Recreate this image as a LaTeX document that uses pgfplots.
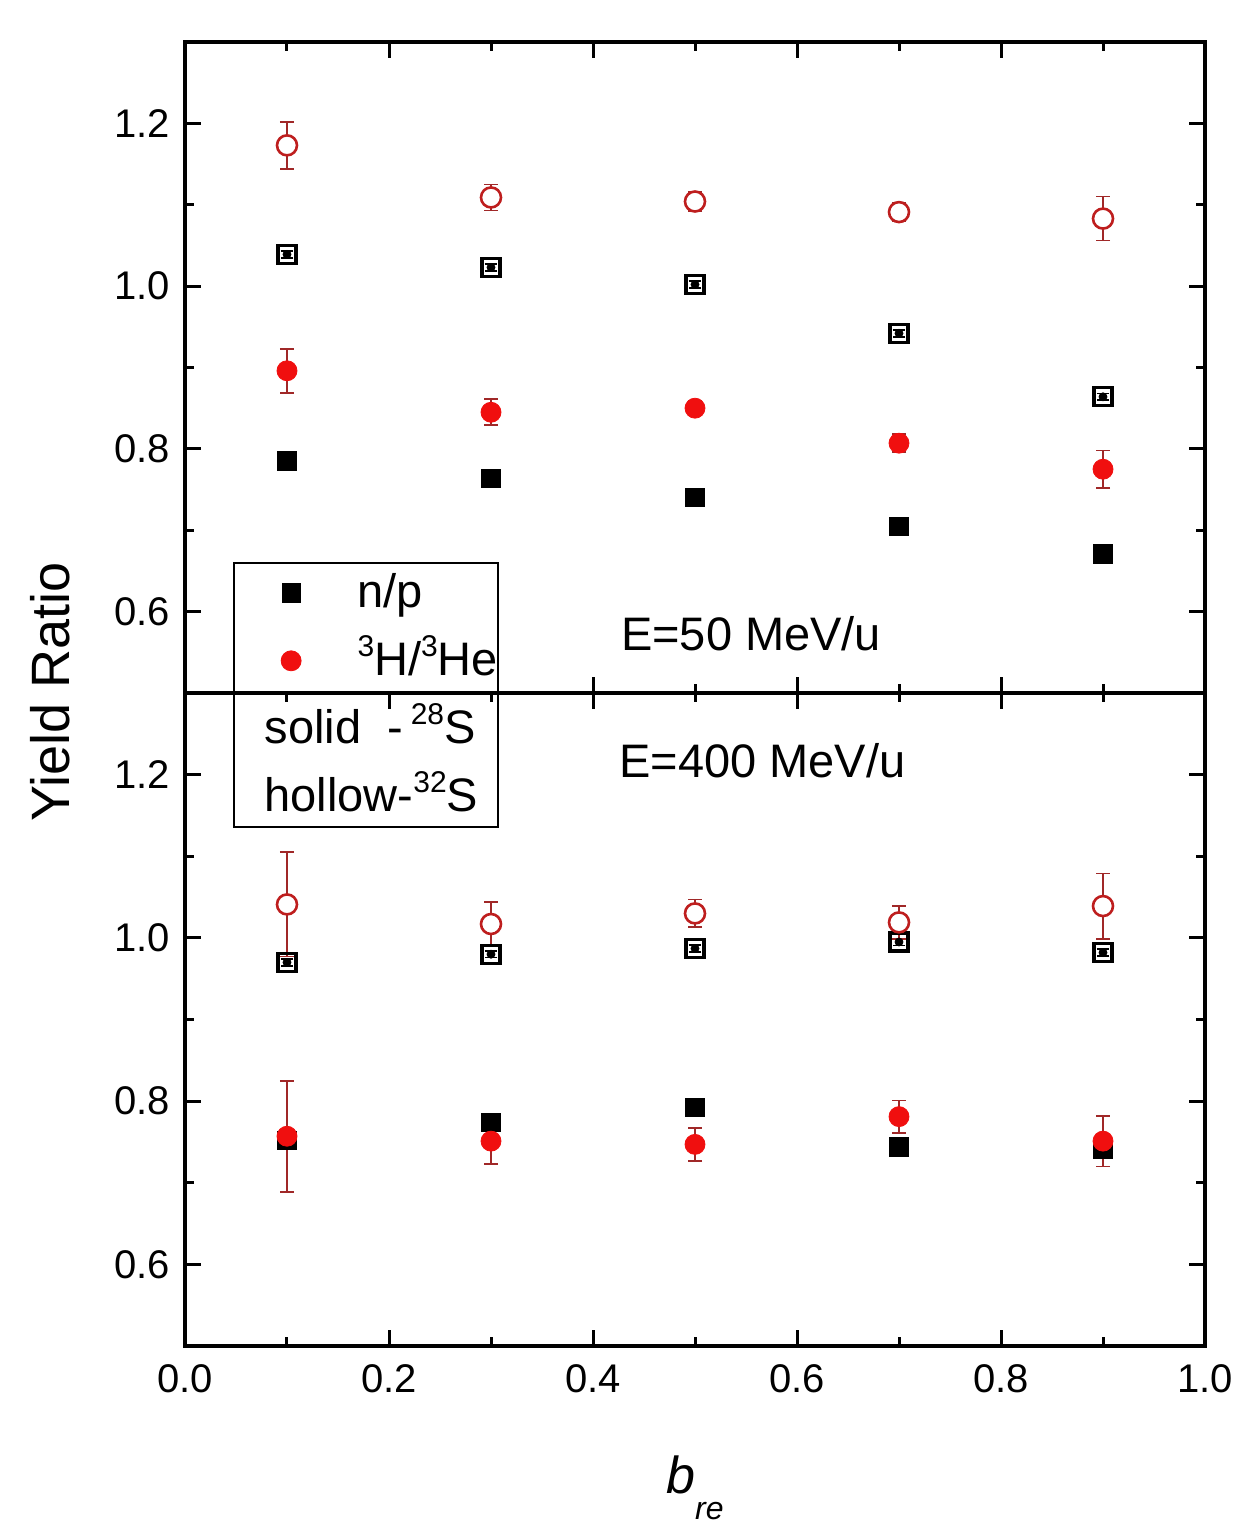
\documentclass[border=0pt]{standalone}
\usepackage{pgfplots}
\pgfplotsset{compat=1.18}
\usepackage{pgfplotstable}
\usepackage{fontspec}
\setmainfont{Liberation Sans}
\definecolor{hred}{RGB}{190,30,30}
\definecolor{ered}{RGB}{160,40,40}
\definecolor{sred}{RGB}{240,15,15}

% top panel (E=50 MeV/u)
\pgfplotstableread{
x y e
0.1 1.173 0.029
0.3 1.109 0.016
0.5 1.104 0.012
0.7 1.091 0.011
0.9 1.083 0.027
}\topHC
\pgfplotstableread{
x y e
0.1 1.039 0.0042
0.3 1.023 0.0042
0.5 1.002 0.0042
0.7 0.942 0.0042
0.9 0.864 0.0042
}\topHS
\pgfplotstableread{
x y e
0.1 0.896 0.027
0.3 0.845 0.016
0.5 0.850 0.009
0.7 0.807 0.011
0.9 0.775 0.023
}\topSC
\pgfplotstableread{
x y
0.1 0.785
0.3 0.764
0.5 0.740
0.7 0.705
0.9 0.671
}\topSS
% bottom panel (E=400 MeV/u)
\pgfplotstableread{
x y e
0.1 1.041 0.064
0.3 1.017 0.027
0.5 1.030 0.017
0.7 1.019 0.020
0.9 1.039 0.040
}\botHC
\pgfplotstableread{
x y e
0.1 0.970 0.0042
0.3 0.980 0.0042
0.5 0.987 0.0042
0.7 0.995 0.0042
0.9 0.982 0.0042
}\botHS
\pgfplotstableread{
x y e
0.1 0.757 0.068
0.3 0.751 0.028
0.5 0.747 0.020
0.7 0.781 0.020
0.9 0.751 0.031
}\botSC
\pgfplotstableread{
x y
0.1 0.752
0.3 0.774
0.5 0.792
0.7 0.744
0.9 0.741
}\botSS

\pgfplotsset{
  panel/.style={
    width=510pt, scale only axis,
    xmin=0, xmax=1, ymin=0.5, ymax=1.3,
    xtick={0,0.2,0.4,0.6,0.8,1.0}, minor x tick num=1,
    ytick={0.6,0.8,1.0,1.2}, minor y tick num=1,
    tick align=inside, tick pos=both,
    axis line style={line width=2.2pt},
    major tick length=8pt, minor tick length=4.5pt,
    every tick/.style={black, line width=1.5pt},
    tick label style={font=\fontsize{20}{24}\selectfont},
    yticklabel style={xshift=-4pt},
    xticklabel style={yshift=-6pt},
    /pgf/number format/fixed,
    /pgf/number format/fixed zerofill,
    /pgf/number format/precision=1,
    /pgf/number format/assume math mode=true,
    clip=false,
  },
  ebar/.style={forget plot, only marks, no markers,
    error bars/.cd, y dir=both, y explicit,
    error bar style={#1, line width=0.8pt},
    error mark options={rotate=90, #1, mark size=3.5pt, line width=0.8pt}},
  capbar/.style={forget plot, only marks, no markers,
    error bars/.cd, y dir=both, y explicit,
    error bar style={draw=none},
    error mark options={rotate=90, draw=black, mark size=3.2pt, line width=0.8pt}},
  hcirc/.style={forget plot, only marks, mark=*, mark size=5pt,
    mark options={draw=hred, fill=white, line width=1.3pt}},
  hsq/.style={forget plot, only marks, mark=square, mark size=4.5pt,
    mark options={draw=black, line width=1.6pt}},
  scirc/.style={forget plot, only marks, mark=*, mark size=5pt,
    mark options={draw=sred, fill=sred, line width=0.4pt}},
  ssq/.style={forget plot, only marks, mark=square*, mark size=4.6pt,
    mark options={draw=black, fill=black, line width=0.4pt}},
}

\begin{document}
\begin{tikzpicture}
\useasboundingbox (-92.5pt,-95.5pt) rectangle (534pt,673pt);

% ---------- top panel ----------
\begin{axis}[panel, at={(0pt,326.5pt)}, anchor=south west, height=325.5pt,
  xticklabels=\empty,
  legend image code/.code={\path (-28.5pt,0pt) (33pt,0pt); \draw[#1] plot coordinates {(0pt,0pt)};},
  legend cell align=left,
  legend style={at={(axis description cs:0.047,0.2012)}, anchor=north west,
    draw=black, line width=0.8pt, fill=white, inner xsep=0pt, inner ysep=3pt,
    row sep=10pt, font=\fontsize{23.5}{23.5}\selectfont,
    nodes={inner sep=0pt, text height=19.5pt, text depth=4.5pt}},
]
\addplot[ssq] table[x=x,y=y]{\topSS};
\addplot[ebar=ered] table[x=x,y=y,y error=e]{\topSC};
\addplot[scirc] table[x=x,y=y]{\topSC};
\addplot[hsq] table[x=x,y=y]{\topHS};
\addplot[capbar] table[x=x,y=y,y error=e]{\topHS};
\addplot[ebar=ered] table[x=x,y=y,y error=e]{\topHC};
\addplot[hcirc] table[x=x,y=y]{\topHC};

\addlegendimage{mark=square*, mark size=4.6pt, draw=black, fill=black, line width=0.4pt}
\addlegendentry{n/p}
\addlegendimage{mark=*, mark size=5pt, draw=sred, fill=sred, line width=0.4pt}
\addlegendentry{\raisebox{0.42em}{\fontsize{15}{15}\selectfont 3}H/\raisebox{0.42em}{\fontsize{15}{15}\selectfont 3}He\hspace{2.5pt}}
\addlegendimage{empty legend}
\addlegendentry{\hspace*{-46.5pt}solid\ \ -\,\raisebox{0.42em}{\fontsize{15}{15}\selectfont 28}S}
\addlegendimage{empty legend}
\addlegendentry{\hspace*{-46.5pt}hollow-\raisebox{0.42em}{\fontsize{15}{15}\selectfont 32}S}

\node[font=\fontsize{23.5}{23.5}\selectfont] at (axis cs:0.555,0.573) {E=50 MeV/u};
\end{axis}

% ---------- bottom panel ----------
\begin{axis}[panel, at={(0pt,0pt)}, anchor=south west, height=326.5pt,
  xlabel={\textit{b}\raisebox{-13pt}{\fontsize{16}{16}\selectfont\textit{re}}},
  xlabel style={at={(axis description cs:0.5,0)}, anchor=center, yshift=-71pt,
    font=\fontsize{26}{26}\selectfont},
]
\addplot[ssq] table[x=x,y=y]{\botSS};
\addplot[ebar=ered] table[x=x,y=y,y error=e]{\botSC};
\addplot[scirc] table[x=x,y=y]{\botSC};
\addplot[hsq] table[x=x,y=y]{\botHS};
\addplot[capbar] table[x=x,y=y,y error=e]{\botHS};
\addplot[ebar=ered] table[x=x,y=y,y error=e]{\botHC};
\addplot[hcirc] table[x=x,y=y]{\botHC};

\node[font=\fontsize{23.5}{23.5}\selectfont] at (axis cs:0.566,1.217) {E=400 MeV/u};
\end{axis}

\node[rotate=90, font=\fontsize{27}{27}\selectfont] at (-67.5pt,327pt) {Yield Ratio};
\end{tikzpicture}
\end{document}
